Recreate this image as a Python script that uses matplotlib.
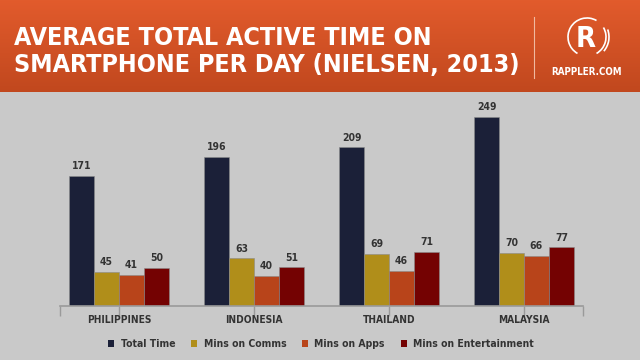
import numpy as np
import matplotlib.pyplot as plt
from matplotlib.patches import Patch, Arc
from matplotlib import font_manager

countries = ["PHILIPPINES", "INDONESIA", "THAILAND", "MALAYSIA"]
series = ["Total Time", "Mins on Comms", "Mins on Apps", "Mins on Entertainment"]
total_time = [171, 196, 209, 249]
comms = [45, 63, 69, 70]
apps = [41, 40, 46, 66]
entertainment = [50, 51, 71, 77]
colors = ["#1b2038", "#b08e1a", "#b8441a", "#740202"]

values = [total_time, comms, apps, entertainment]

fig = plt.figure(figsize=(6.4, 3.6), dpi=100)
fig.patch.set_facecolor("#c9c9c9")

# orange header band with a soft gradient (axes units = pixels)
bg = fig.add_axes([0, 1 - 92 / 360, 1, 92 / 360])
grad = np.linspace(0, 1, 100).reshape(-1, 1)
top = np.array([0.886, 0.357, 0.173])
bot = np.array([0.757, 0.282, 0.118])
img = top + (bot - top) * grad[:, :, None]
bg.imshow(img, aspect="auto", extent=[0, 640, 92, 0])
bg.set_axis_off()
bg.set_xlim(0, 640)
bg.set_ylim(92, 0)

cond = dict(family="DejaVu Sans", fontstretch="condensed")
title_kw = dict(color="white", fontsize=18, fontweight="bold", va="baseline", **cond)
bg.text(14, 45, "AVERAGE TOTAL ACTIVE TIME ON", **title_kw)
bg.text(14, 72, "SMARTPHONE PER DAY (NIELSEN, 2013)", **title_kw)

# divider and logo
bg.plot([534, 534], [17, 78], color="#f0b9a0", lw=0.8)
bg.text(586, 39, "R", color="white", fontsize=21, fontweight="bold",
        ha="center", va="center", **cond)
for r, t1, t2 in [(19, 120, 300), (19, 330, 60), (22, 340, 40)]:
    bg.add_patch(Arc((587, 37), 2 * r, 2 * r, theta1=t1, theta2=t2,
                     color="white", lw=1.2))
bg.text(587, 72, "RAPPLER.COM", color="white", fontsize=7,
        fontweight="bold", ha="center", va="center", **cond)

# chart
ax = fig.add_axes([60 / 640, (360 - 306) / 360, (583 - 60) / 640, 206 / 360])
ax.set_facecolor("none")
x = np.arange(len(countries))
w = 0.185
offsets = np.array([-1.5, -0.5, 0.5, 1.5]) * w
for vals, off, c, name in zip(values, offsets, colors, series):
    bars = ax.bar(x + off, vals, width=w, color=c, edgecolor="#8a8a8a",
                  linewidth=0.4, label=name, zorder=2)
    for b, v in zip(bars, vals):
        ax.text(b.get_x() + b.get_width() / 2, v + 6, str(v), ha="center",
                va="bottom", fontsize=7.5, fontweight="bold", color="#333333", **cond)

ax.set_xlim(-0.437, 3.437)
ax.set_ylim(0, 271)
for s in ["top", "right", "left"]:
    ax.spines[s].set_visible(False)
ax.spines["bottom"].set_color("#9a9a9a")
ax.spines["bottom"].set_linewidth(1.2)
ax.set_yticks([])
ax.set_xticks([-0.437, 0, 1, 2, 3, 3.437])
ax.set_xticklabels(["", "", "", "", "", ""])
ax.tick_params(axis="x", length=7, color="#9a9a9a", width=1)
for xi, name in zip(x, countries):
    ax.text(xi, -12, name, ha="center", va="top", fontsize=7.3, fontweight="bold",
            color="#333333", **cond)

handles = [Patch(facecolor=c, label=n) for c, n in zip(colors, series)]
leg = fig.legend(handles=handles, loc="center", bbox_to_anchor=(321 / 640, 1 - 344 / 360),
                 ncol=4, frameon=False, handlelength=0.6, handleheight=0.6,
                 handletextpad=0.6, columnspacing=1.5,
                 prop=font_manager.FontProperties(family="DejaVu Sans", stretch="condensed",
                                                  size=7.5, weight="bold"))
for t in leg.get_texts():
    t.set_color("#333333")

fig.savefig("out.png", dpi=100, facecolor=fig.get_facecolor())
